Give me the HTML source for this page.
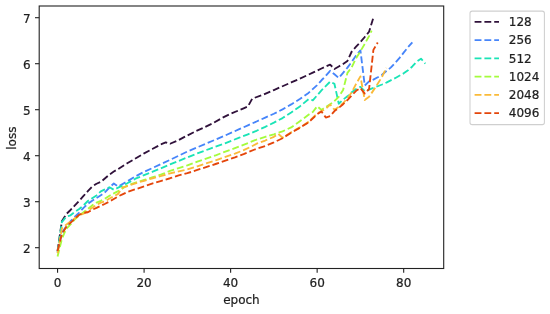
<!DOCTYPE html>
<html><head><meta charset="utf-8"><title>loss vs epoch</title><style>html,body{margin:0;padding:0;background:#fff}svg{display:block}text{stroke:#222;stroke-width:.22px}</style></head><body>
<svg width="550" height="314" viewBox="0 0 550 314" font-family='"DejaVu Sans", "Liberation Sans", sans-serif' font-size="12.0px" fill="#1e1e1e">
<rect width="550" height="314" fill="#fff"/>
<g fill="none" stroke-width="1.85" stroke-dasharray="6.85 2.96" stroke-linejoin="round" stroke-linecap="butt">
<path d="M57.56 250.92 L61.89 221.25 L66.21 214.12 L70.54 209.98 L74.87 205.38 L79.19 200.78 L83.52 195.95 L87.85 191.12 L92.17 186.52 L96.50 183.76 L100.83 181.92 L105.15 178.24 L109.48 174.56 L113.80 171.57 L118.13 169.04 L126.78 163.52 L135.44 158.46 L144.09 153.40 L152.74 148.80 L161.40 144.20 L165.72 142.36 L170.05 143.74 L178.70 140.06 L187.36 135.46 L196.01 131.09 L204.66 127.18 L213.31 123.04 L221.97 117.98 L230.62 113.84 L243.60 108.32 L247.93 106.48 L252.25 98.66 L263.07 94.75 L273.88 90.06 L282.54 86.24 L291.19 82.42 L299.84 78.65 L312.82 72.67 L321.48 68.53 L330.13 64.62 L334.46 68.99 L338.78 66.46 L343.11 63.93 L347.44 60.94 L351.76 51.51 L356.09 46.68 L360.42 42.08 L364.74 37.02 L369.07 31.73 L373.39 17.70" stroke="#30123b"/>
<path d="M57.56 251.38 L61.89 232.52 L66.21 226.54 L70.54 221.25 L74.87 216.79 L79.19 212.65 L83.52 207.91 L87.85 203.77 L92.17 200.78 L96.50 198.02 L100.83 195.26 L105.15 192.04 L109.48 187.44 L113.80 183.53 L118.13 186.52 L126.78 181.69 L135.44 176.40 L144.09 171.80 L152.74 167.89 L161.40 163.89 L170.05 159.84 L178.70 155.70 L187.36 151.56 L197.31 147.33 L216.34 139.28 L225.00 135.55 L239.27 129.20 L247.93 125.34 L256.58 121.48 L265.23 117.61 L273.88 113.75 L282.54 109.33 L291.19 104.41 L299.84 98.98 L308.50 92.91 L317.15 85.09 L321.48 80.26 L325.80 75.80 L330.13 70.83 L334.46 74.28 L338.78 77.96 L343.11 72.90 L347.44 67.61 L351.76 61.86 L356.09 55.42 L360.42 50.36 L364.74 85.55 L369.07 81.41 L373.39 79.57 L377.72 77.27 L382.05 74.74 L386.37 71.06 L390.70 67.61 L395.03 63.01 L399.35 58.18 L403.68 52.66 L408.01 47.14 L412.33 42.31" stroke="#4685fa"/>
<path d="M57.56 252.30 L61.89 222.17 L66.21 216.65 L70.54 215.27 L74.87 211.82 L79.19 209.06 L83.52 205.38 L87.85 201.01 L92.17 198.25 L96.50 195.49 L100.83 191.35 L105.15 189.28 L109.48 187.21 L113.80 189.74 L118.13 187.67 L126.78 183.53 L135.44 178.70 L144.09 175.11 L152.74 171.71 L161.40 168.12 L170.05 164.44 L178.70 160.90 L187.36 157.40 L197.31 153.40 L208.99 149.03 L216.34 146.27 L225.00 143.28 L239.27 137.67 L247.93 134.31 L256.58 130.77 L265.23 126.86 L273.88 122.67 L282.54 118.07 L291.19 112.46 L299.84 106.39 L308.50 99.21 L312.82 100.27 L321.48 90.38 L330.13 81.64 L334.46 83.94 L338.78 103.72 L343.11 99.58 L347.44 96.36 L351.76 92.22 L356.09 89.00 L360.42 86.93 L364.74 91.07 L369.07 89.69 L373.39 87.85 L377.72 86.24 L382.05 84.49 L386.37 82.56 L390.70 80.40 L395.03 78.19 L399.35 75.75 L403.68 73.36 L408.01 70.28 L412.33 66.46 L416.66 61.63 L420.99 58.64 L425.31 63.70" stroke="#1ae4b6"/>
<path d="M57.56 256.44 L61.89 238.96 L66.21 228.84 L70.54 224.47 L74.87 219.18 L79.19 215.50 L83.52 212.28 L87.85 209.06 L92.17 205.38 L96.50 202.62 L100.83 200.78 L105.15 198.48 L109.48 195.72 L113.80 193.42 L118.13 191.12 L126.78 185.83 L135.44 182.61 L144.09 179.99 L152.74 177.23 L161.40 174.47 L170.05 170.88 L178.70 168.12 L187.36 165.36 L197.31 161.59 L216.34 155.01 L234.95 148.11 L247.93 143.05 L256.58 139.60 L265.23 136.84 L273.88 134.31 L282.54 131.32 L291.19 127.41 L299.84 121.20 L308.50 114.76 L312.82 112.00 L317.15 106.25 L321.48 109.93 L325.80 106.94 L333.16 102.34 L338.78 96.82 L343.11 89.92 L347.44 72.90 L351.76 67.15 L356.09 58.18 L360.42 51.28 L364.74 43.92 L369.07 36.10 L371.66 30.58" stroke="#a4fc3c"/>
<path d="M57.56 253.22 L61.89 228.38 L66.21 224.70 L70.54 221.48 L74.87 218.26 L79.19 215.27 L83.52 213.66 L87.85 210.90 L92.17 207.68 L96.50 204.92 L100.83 202.62 L105.15 201.24 L109.48 198.48 L113.80 196.41 L118.13 193.88 L122.46 187.44 L126.78 186.29 L135.44 183.30 L144.09 180.77 L152.74 178.24 L161.40 175.94 L170.05 173.41 L178.70 171.34 L187.36 169.50 L197.31 166.28 L216.34 160.07 L234.95 153.63 L243.60 150.18 L250.52 146.96 L256.58 143.74 L265.23 140.52 L273.88 136.84 L278.21 133.85 L282.54 137.76 L291.19 132.24 L299.84 127.41 L308.50 121.89 L317.15 113.38 L321.48 111.08 L325.80 108.78 L330.13 104.64 L334.46 109.70 L338.78 106.94 L343.11 103.26 L347.44 98.20 L351.76 92.22 L356.09 83.94 L360.42 76.35 L364.74 100.04 L369.07 96.82 L373.39 90.38 L377.72 83.71 L382.05 76.81 L386.37 67.84" stroke="#faba39"/>
<path d="M57.56 250.92 L61.89 233.90 L66.21 227.00 L70.54 222.86 L74.87 218.72 L79.19 214.81 L83.52 212.88 L87.85 212.28 L92.17 209.75 L96.50 207.91 L100.83 205.84 L105.15 203.77 L109.48 201.47 L113.80 198.94 L118.13 196.41 L122.46 194.34 L126.78 192.27 L135.44 189.28 L144.09 186.29 L152.74 183.30 L161.40 180.77 L170.05 178.24 L178.70 175.48 L187.36 173.18 L197.31 169.96 L216.34 163.75 L234.95 157.31 L243.60 154.09 L255.28 149.26 L265.23 146.04 L273.88 142.36 L282.54 138.22 L291.19 132.70 L299.84 127.87 L308.50 122.35 L317.15 114.30 L321.48 111.54 L325.80 117.52 L330.13 116.14 L334.46 111.08 L338.78 107.86 L343.11 104.18 L347.44 100.04 L351.76 95.44 L356.09 90.84 L360.42 88.08 L364.74 93.60 L369.07 89.00 L373.39 49.90 L377.72 42.54" stroke="#e4450a"/>
</g>
<rect x="39.2" y="6.0" width="404.50" height="262.50" fill="none" stroke="#222" stroke-width="1.1"/>
<g stroke="#222" stroke-width="1.1">
<line x1="57.56" y1="268.5" x2="57.56" y2="272.7"/>
<line x1="144.09" y1="268.5" x2="144.09" y2="272.7"/>
<line x1="230.62" y1="268.5" x2="230.62" y2="272.7"/>
<line x1="317.15" y1="268.5" x2="317.15" y2="272.7"/>
<line x1="403.68" y1="268.5" x2="403.68" y2="272.7"/>
<line x1="35.0" y1="247.70" x2="39.2" y2="247.70"/>
<line x1="35.0" y1="201.70" x2="39.2" y2="201.70"/>
<line x1="35.0" y1="155.70" x2="39.2" y2="155.70"/>
<line x1="35.0" y1="109.70" x2="39.2" y2="109.70"/>
<line x1="35.0" y1="63.70" x2="39.2" y2="63.70"/>
<line x1="35.0" y1="17.70" x2="39.2" y2="17.70"/>
</g>
<text x="57.56" y="286.9" text-anchor="middle">0</text>
<text x="144.09" y="286.9" text-anchor="middle">20</text>
<text x="230.62" y="286.9" text-anchor="middle">40</text>
<text x="317.15" y="286.9" text-anchor="middle">60</text>
<text x="403.68" y="286.9" text-anchor="middle">80</text>
<text x="30.65" y="252.65" text-anchor="end">2</text>
<text x="30.65" y="206.65" text-anchor="end">3</text>
<text x="30.65" y="160.65" text-anchor="end">4</text>
<text x="30.65" y="114.65" text-anchor="end">5</text>
<text x="30.65" y="68.65" text-anchor="end">6</text>
<text x="30.65" y="22.65" text-anchor="end">7</text>
<text x="241.45" y="303.5" text-anchor="middle">epoch</text>
<text transform="translate(16.45 138.15) rotate(-90)" text-anchor="middle">loss</text>
<rect x="470.0" y="11.1" width="74.40" height="113.50" rx="2.2" fill="#fff" fill-opacity="0.8" stroke="#ccc" stroke-opacity="0.95" stroke-width="1.05"/>
<line x1="474.6" y1="21.8" x2="499.00" y2="21.8" stroke="#30123b" stroke-width="1.85" stroke-dasharray="6.85 2.96"/>
<text x="508.8" y="26.10">128</text>
<line x1="474.6" y1="40.15" x2="499.00" y2="40.15" stroke="#4685fa" stroke-width="1.85" stroke-dasharray="6.85 2.96"/>
<text x="508.8" y="44.45">256</text>
<line x1="474.6" y1="58.4" x2="499.00" y2="58.4" stroke="#1ae4b6" stroke-width="1.85" stroke-dasharray="6.85 2.96"/>
<text x="508.8" y="62.70">512</text>
<line x1="474.6" y1="76.65" x2="499.00" y2="76.65" stroke="#a4fc3c" stroke-width="1.85" stroke-dasharray="6.85 2.96"/>
<text x="508.8" y="80.95">1024</text>
<line x1="474.6" y1="94.9" x2="499.00" y2="94.9" stroke="#faba39" stroke-width="1.85" stroke-dasharray="6.85 2.96"/>
<text x="508.8" y="99.20">2048</text>
<line x1="474.6" y1="113.1" x2="499.00" y2="113.1" stroke="#e4450a" stroke-width="1.85" stroke-dasharray="6.85 2.96"/>
<text x="508.8" y="117.40">4096</text>
</svg>
</body></html>
